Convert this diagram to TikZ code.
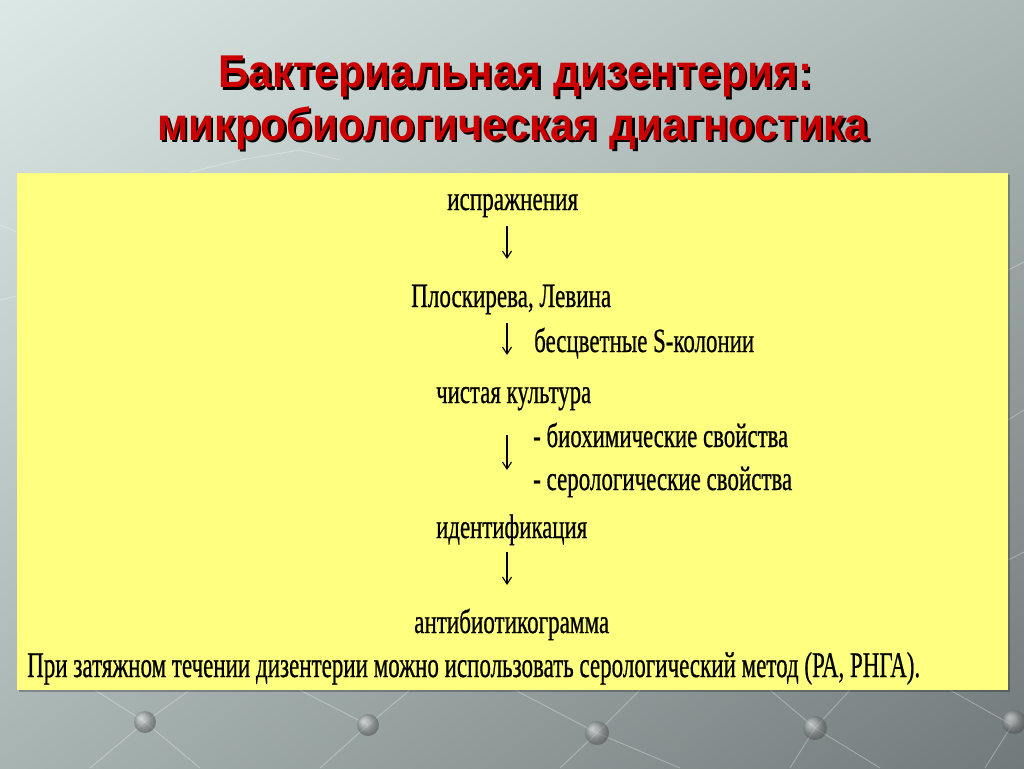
\documentclass[tikz,border=0pt]{standalone}
\usepackage{fontspec}
\usepackage{graphicx}
\setmainfont[FakeBold=0.8]{Liberation Serif}
\newfontfamily\titlefont{Liberation Sans}
\usetikzlibrary{arrows.meta,shadings}
\definecolor{bgA}{RGB}{220,232,230}
\definecolor{bgB}{RGB}{172,184,182}
\definecolor{bgC}{RGB}{168,180,178}
\definecolor{bgD}{RGB}{112,122,122}
\definecolor{boxyellow}{RGB}{255,255,128}
\definecolor{titlered}{RGB}{204,0,0}
\newcommand{\fitw}[3]{\resizebox{#1pt}{\height}{\fontsize{#2}{#2}\selectfont #3}}
\newcommand{\titw}[2]{\resizebox{#1pt}{\height}{\titlefont\bfseries\fontsize{46}{46}\selectfont
  \rlap{\raisebox{-2.5pt}{\hspace{2.5pt}\color{black}#2}}\color{titlered}#2}}
\tikzset{
  body/.style={inner sep=0pt, anchor=base west, text=black},
  ttl/.style={inner sep=0pt, anchor=base west},
  flow/.style={line width=1.1pt, -{Straight Barb[length=7pt,width=9pt,line width=1.1pt]}},
  lattice/.style={white, opacity=0.3, line width=0.9pt},
  sphere/.style={ball color=gray!60!white, opacity=0.55}
}
\begin{document}
\begin{tikzpicture}[x=1pt,y=-1pt]
\useasboundingbox (0,0) rectangle (1024,768);
% background
\shade[upper left=bgA, upper right=bgB, lower left=bgC, lower right=bgD] (0,0) rectangle (1024,768);
% faint lattice decoration
\draw[lattice] (90,768) -- (145,722) -- (200,768);
\draw[lattice] (95,690) -- (145,722) -- (190,690);
\draw[lattice] (320,768) -- (368,725) -- (410,690);
\draw[lattice] (300,690) -- (368,725);
\draw[lattice] (560,768) -- (597,733) -- (640,690);
\draw[lattice] (515,690) -- (597,733) -- (680,768);
\draw[lattice] (790,768) -- (815,728) -- (850,690);
\draw[lattice] (770,690) -- (815,728) -- (880,768);
\draw[lattice] (950,690) -- (1012,725) -- (985,768);
\draw[lattice] (190,172) -- (240,160) -- (300,150) -- (340,160);
\draw[lattice] (0,225) -- (17,232);
\draw[lattice] (0,300) -- (17,296);
\draw[lattice] (1008,270) -- (1024,262);
\draw[lattice] (1008,420) -- (1024,410);
\draw[lattice] (1008,560) -- (1024,552);
\shade[sphere] (145,722) circle (11);
\shade[sphere] (368,725) circle (11);
\shade[sphere] (597,733) circle (12);
\shade[sphere] (815,728) circle (12);
\shade[sphere] (1014,722) circle (12);
% title with shadow
\node[ttl] (t1) at (218,88) {\titw{594}{Бактериальная дизентерия:}};
\node[ttl] (t2) at (157,140) {\titw{711}{микробиологическая диагностика}};
% yellow panel
\fill[black, opacity=0.25] (19,175) rectangle (1010,692);
\fill[boxyellow] (17,173) rectangle (1008,690);
% flow texts
\node[body] (n1) at (447,210) {\fitw{131}{34}{испражнения}};
\node[body] (n2) at (411,307) {\fitw{200}{34}{Плоскирева, Левина}};
\node[body] (n2a) at (534,352) {\fitw{220}{34}{бесцветные S-колонии}};
\node[body] (n3) at (436,403) {\fitw{155}{34}{чистая культура}};
\node[body] (n3a) at (533,447) {\fitw{255}{34}{- биохимические свойства}};
\node[body] (n3b) at (533,490) {\fitw{259}{34}{- серологические свойства}};
\node[body] (n4) at (436,538) {\fitw{151}{34}{идентификация}};
\node[body] (n5) at (414,633) {\fitw{195}{34}{антибиотикограмма}};
\node[body] (n6) at (27,677) {\fitw{893}{36}{При затяжном течении дизентерии можно использовать серологический метод (РА, РНГА).}};
% arrows
\coordinate (a1s) at (507,226);
\coordinate (a1e) at (507,259);
\coordinate (a2s) at (507,323);
\coordinate (a2e) at (507,355);
\coordinate (a3s) at (507,435);
\coordinate (a3e) at (507,470);
\coordinate (a4s) at (507,552);
\coordinate (a4e) at (507,585);
\draw[flow] (a1s) -- (a1e);
\draw[flow] (a2s) -- (a2e);
\draw[flow] (a3s) -- (a3e);
\draw[flow] (a4s) -- (a4e);
\end{tikzpicture}
\end{document}
